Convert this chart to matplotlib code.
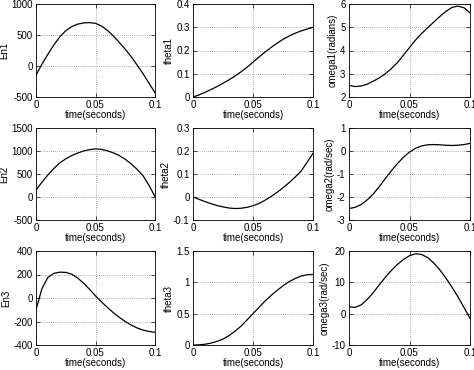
import matplotlib
matplotlib.use("Agg")
import matplotlib.pyplot as plt

plt.rcParams['font.family'] = ['Liberation Sans', 'DejaVu Sans']

time = [0.000, 0.005, 0.010, 0.015, 0.020, 0.025, 0.030, 0.035, 0.040, 0.045, 0.050,
        0.055, 0.060, 0.065, 0.070, 0.075, 0.080, 0.085, 0.090, 0.095, 0.100]

En1 = [-150, 30, 190, 340, 470, 570, 635, 675, 695, 700, 688,
       645, 575, 485, 380, 270, 150, 15, -125, -280, -430]
theta1 = [0, 0.009, 0.02, 0.032, 0.045, 0.059, 0.074, 0.09, 0.108, 0.128, 0.150,
          0.172, 0.193, 0.213, 0.231, 0.248, 0.262, 0.274, 0.284, 0.292, 0.300]
omega1 = [2.5, 2.45, 2.47, 2.55, 2.68, 2.82, 3.0, 3.22, 3.48, 3.8, 4.13,
          4.45, 4.73, 4.98, 5.22, 5.46, 5.68, 5.85, 5.91, 5.84, 5.62]

En2 = [150, 320, 480, 620, 740, 830, 900, 955, 1000, 1030, 1045,
       1035, 1005, 960, 900, 820, 720, 600, 460, 250, 10]
theta2 = [0, -0.01, -0.02, -0.029, -0.037, -0.043, -0.048, -0.05, -0.049, -0.045, -0.038,
          -0.028, -0.014, 0.002, 0.02, 0.04, 0.062, 0.086, 0.112, 0.15, 0.19]
omega2 = [-2.5, -2.45, -2.33, -2.13, -1.87, -1.55, -1.2, -0.86, -0.55, -0.27, -0.05,
          0.12, 0.22, 0.27, 0.28, 0.27, 0.25, 0.24, 0.25, 0.28, 0.33]

En3 = [-100, 80, 175, 210, 220, 218, 203, 170, 126, 74, 18,
       -33, -80, -125, -165, -200, -230, -255, -273, -285, -292]
theta3 = [0, 0.003, 0.012, 0.03, 0.058, 0.095, 0.15, 0.22, 0.3, 0.4, 0.5,
          0.6, 0.7, 0.79, 0.87, 0.945, 1.01, 1.06, 1.1, 1.12, 1.125]
omega3 = [2.2, 2.0, 2.8, 4.5, 6.7, 9.2, 11.6, 13.8, 15.7, 17.3, 18.5,
          19.1, 18.9, 17.9, 16.2, 14.0, 11.4, 8.5, 5.4, 2.0, -1.5]

xlabel = "time(seconds)"
xticks = [0, 0.05, 0.1]
xticklabels = ["0", "0.05", "0.1"]

panels = [
    ("En1", En1, [-500, 0, 500, 1000], ["-500", "0", "500", "1000"]),
    ("theta1", theta1, [0, 0.1, 0.2, 0.3, 0.4], ["0", "0.1", "0.2", "0.3", "0.4"]),
    ("omega1(radians)", omega1, [2, 3, 4, 5, 6], ["2", "3", "4", "5", "6"]),
    ("En2", En2, [-500, 0, 500, 1000, 1500], ["-500", "0", "500", "1000", "1500"]),
    ("theta2", theta2, [-0.1, 0, 0.1, 0.2, 0.3], ["-0.1", "0", "0.1", "0.2", "0.3"]),
    ("omega2(rad/sec)", omega2, [-3, -2, -1, 0, 1], ["-3", "-2", "-1", "0", "1"]),
    ("En3", En3, [-400, -200, 0, 200, 400], ["-400", "-200", "0", "200", "400"]),
    ("theta3", theta3, [0, 0.5, 1, 1.5], ["0", "0.5", "1", "1.5"]),
    ("omega3(rad/sec)", omega3, [-10, 0, 10, 20], ["-10", "0", "10", "20"]),
]

W, H = 474, 370
fig = plt.figure(figsize=(W / 100, H / 100), dpi=100)

col_left = [36, 193, 349]
col_width = [119, 120, 121]
row_top = [4, 128, 251]
row_bottom = [97, 220, 345]
fs = 7.0

for i, (ylab, vals, yt, ytl) in enumerate(panels):
    r, c = divmod(i, 3)
    ax = fig.add_axes([col_left[c] / W, 1 - row_bottom[r] / H,
                       col_width[c] / W, (row_bottom[r] - row_top[r]) / H])
    ax.plot(time, vals, color='black', lw=0.9)
    ax.set_xlim(0, 0.1)
    ax.set_ylim(yt[0], yt[-1])
    ax.set_xticks(xticks)
    ax.set_xticklabels(xticklabels)
    ax.set_yticks(yt)
    ax.set_yticklabels(ytl)
    ax.grid(True, linestyle=(0, (1, 2)), color='#666666', lw=0.5)
    ax.tick_params(direction='in', length=3, width=0.5, labelsize=fs,
                   top=True, right=True, colors='black')
    ax.tick_params(axis='x', pad=2.5)
    ax.tick_params(axis='y', pad=2.5)
    for s in ax.spines.values():
        s.set_linewidth(0.6)
    ax.set_xlabel(xlabel, fontsize=fs, labelpad=0)
    ax.set_ylabel(ylab, fontsize=fs, labelpad=1.5)

fig.savefig("out.png", dpi=100)
